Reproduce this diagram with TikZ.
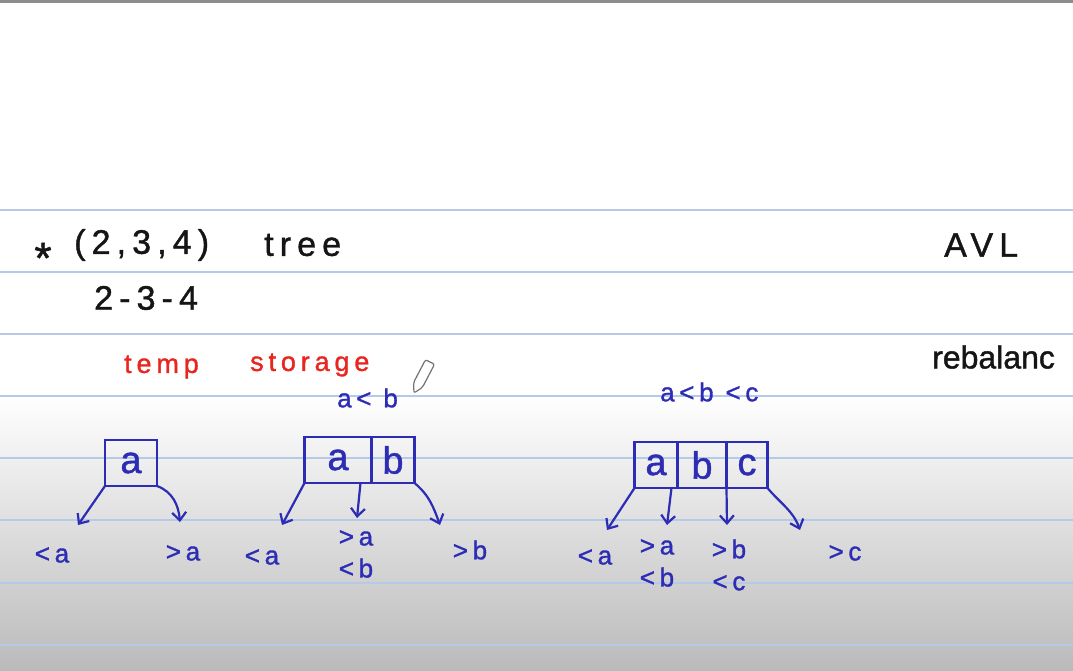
\documentclass[tikz,border=0pt]{standalone}
\usepackage{fontspec}
\setmainfont{Liberation Sans}
\newfontfamily\hand[LetterSpace=18,FakeBold=1.2]{Liberation Sans}
\newfontfamily\handbox[FakeBold=1.2]{Liberation Sans}
\usepackage{xcolor}
\usepackage{tikz}
\usetikzlibrary{arrows.meta,positioning}

\definecolor{ink}{HTML}{151515}
\definecolor{penblue}{HTML}{2C2CB4}
\definecolor{penred}{HTML}{E8261F}
\definecolor{rule}{HTML}{B4CAE8}

\tikzset{
    note/.style={text=ink, font=\hand\fontsize{34}{34}\selectfont, inner sep=0pt},
    rednote/.style={text=penred, font=\hand\fontsize{27}{27}\selectfont, inner sep=0pt},
    bluenote/.style={text=penblue, font=\hand\fontsize{26}{32}\selectfont, inner sep=0pt, align=center},
    cell/.style={draw=penblue, line width=2.2pt, inner sep=0pt, outer sep=0pt,
        minimum height=46pt, text=penblue, font=\handbox\fontsize{38}{38}\selectfont},
    arr/.style={draw=penblue, line width=2.2pt, line cap=round,
        -{Straight Barb[length=8pt,width=14pt]}},
}

\begin{document}
\begin{tikzpicture}[x=1pt,y=-1pt]
    \useasboundingbox (0,0) rectangle (1073,671);

    % Paper and ruled lines
    \fill[white] (0,0) rectangle (1073,671);
    \shade[top color=white, bottom color=black!27] (0,395) rectangle (1073,671);
    \fill[black!45] (0,0) rectangle (1073,3);
    \foreach \y in {210,272,334,396,458,520,583,645}
        \draw[rule, line width=1.5pt] (0,\y) -- (1073,\y);

    % Headings
    \node[note, font=\hand\fontsize{44}{44}\selectfont] (star) at (43,258) {*};
    \node[note, anchor=west] (tuple) at (74,245) {(2,3,4)};
    \node[note, anchor=west] (tree) at (264,245) {tree};
    \node[note, anchor=west] (chain) at (94,298) {2-3-4};
    \node[note, anchor=west] (avl) at (944,245) {AVL};
    \node[note, anchor=west, font=\handbox\fontsize{32}{32}\selectfont] (rebal) at (932,357) {rebalanc};
    \node[rednote, anchor=west] (temp) at (124,367) {temp};
    \node[rednote, anchor=west] (storage) at (250,365) {storage};
    \node[bluenote, anchor=west] (order2) at (337,398) {a< b};
    \node[bluenote, anchor=west] (order3) at (660,392) {a<b <c};

    % Pencil cursor
    \draw[black!55, line width=1.2pt, rounded corners=2pt]
        (414,393) -- (422.5,387.3) -- (434.5,364.3) -- (425.5,359.7) -- (413.5,382.7) -- cycle;

    % Node with one key
    \node[cell, minimum width=52pt] (t1a) at (131,463) {a};
    \node[bluenote] (t1lt) at (52,555) {<a};
    \node[bluenote] (t1gt) at (183,553) {>a};
    \coordinate (t1l) at (78,525);
    \coordinate (t1r) at (180,522);
    \draw[arr] (t1a.south west) -- (t1l);
    \draw[arr] (t1a.south east) to[out=-20,in=95] (t1r);

    % Node with two keys
    \node[cell, minimum width=67pt] (t2a) at (338,460) {a};
    \node[cell, minimum width=43pt, right=0pt of t2a] (t2b) {b};
    \node[bluenote] (t2lt) at (262,557) {<a};
    \node[bluenote] (t2mid) at (356,554) {>a\\<b};
    \node[bluenote] (t2gt) at (470,550) {>b};
    \coordinate (t2l) at (282,525);
    \coordinate (t2m) at (357,518);
    \coordinate (t2r) at (440,525);
    \draw[arr] (t2a.south west) -- (t2l);
    \draw[arr] ([xshift=-11pt]t2a.south east) -- (t2m);
    \draw[arr] (t2b.south east) to[out=-40,in=110] (t2r);

    % Node with three keys
    \node[cell, minimum width=43pt] (t3a) at (656,465) {a};
    \node[cell, minimum width=49pt, right=0pt of t3a] (t3b) {b};
    \node[cell, minimum width=41pt, right=0pt of t3b] (t3c) {c};
    \node[bluenote] (t3lt) at (595,557) {<a};
    \node[bluenote] (t3ab) at (657,563) {>a\\<b};
    \node[bluenote] (t3bc) at (729,565) {>b\\<c};
    \node[bluenote] (t3gt) at (845,553) {>c};
    \coordinate (t3l) at (607,530);
    \coordinate (t3m) at (667,525);
    \coordinate (t3n) at (727,525);
    \coordinate (t3r) at (800,530);
    \draw[arr] (t3a.south west) -- (t3l);
    \draw[arr] ([xshift=-6pt]t3a.south east) -- (t3m);
    \draw[arr] (t3c.south west) -- (t3n);
    \draw[arr] (t3c.south east) to[out=-50,in=110] (t3r);
\end{tikzpicture}
\end{document}
